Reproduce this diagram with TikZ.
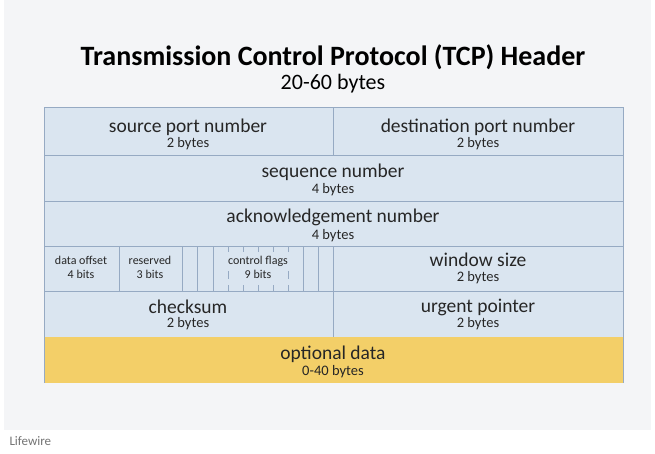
\documentclass[tikz,border=0pt]{standalone}
\usepackage{fontspec}
\setmainfont{Carlito}
\usepackage{xcolor}
\usetikzlibrary{positioning}
\definecolor{panel}{RGB}{244,245,247}
\definecolor{cellblue}{RGB}{218,229,240}
\definecolor{cellline}{RGB}{150,170,195}
\definecolor{optyellow}{RGB}{243,207,104}

\tikzset{
  field/.style={draw=cellline, fill=cellblue, line width=0.8pt},
  fname/.style={font=\fontsize{19.5}{21}\selectfont, text=black!85},
  fsize/.style={font=\fontsize{14.5}{16}\selectfont, text=black!85},
  fsmall/.style={font=\fontsize{12}{14}\selectfont, text=black!85, align=center},
}

\begin{document}
\begin{tikzpicture}[x=1pt, y=-1pt]
\useasboundingbox (0,0) rectangle (655,454);
\fill[panel] (4,0) rectangle (651,430);

% title
\node[font=\bfseries\fontsize{28}{30}\selectfont] (title) at (333,57) {Transmission Control Protocol (TCP) Header};
\node[font=\fontsize{22}{24}\selectfont, below=-2pt of title] (subtitle) {20-60 bytes};

% rows
\draw[field] (44,107) rectangle (333,155);
\draw[field] (333,107) rectangle (623,155);
\draw[field] (44,155) rectangle (623,201);
\draw[field] (44,201) rectangle (623,246);
\draw[field] (44,246) rectangle (333,291);
\draw[field] (333,246) rectangle (623,291);
\draw[field] (44,291) rectangle (333,337);
\draw[field] (333,291) rectangle (623,337);
\fill[optyellow] (44,337) rectangle (623,383);
\draw[cellline, line width=0.8pt] (44,337) -- (44,383) (623,337) -- (623,383);

% flag dividers
\foreach \x in {119,182,197,213,303,318}
  \draw[cellline, line width=0.8pt] (\x,246) -- (\x,291);
\foreach \x in {228,243,258,273,288} {
  \draw[cellline, line width=0.8pt] (\x,246) -- (\x,252);
  \draw[cellline, line width=0.8pt] (\x,285) -- (\x,291);
}
\draw[cellline, line width=0.8pt] (228,271) -- (228,279) (288,271) -- (288,279);

% labels
\node[fname] (srcport) at (188,127) {source port number};
\node[fsize] (srcsize) at (188,144) {2 bytes};
\node[fname] (dstport) at (478,127) {destination port number};
\node[fsize] (dstsize) at (478,144) {2 bytes};
\node[fname] (seqnum) at (333,172) {sequence number};
\node[fsize] (seqsize) at (333,190) {4 bytes};
\node[fname] (acknum) at (333,217) {acknowledgement number};
\node[fsize] (acksize) at (333,236) {4 bytes};
\node[fsmall] (offset) at (81,267) {data offset\\4 bits};
\node[fsmall] (reserved) at (150,267) {reserved\\3 bits};
\node[fsmall] (flags) at (258,267) {control flags\\9 bits};
\node[fname] (window) at (478,260) {window size};
\node[fsize] (winsize) at (478,278) {2 bytes};
\node[fname] (checksum) at (188,307) {checksum};
\node[fsize] (chksize) at (188,324) {2 bytes};
\node[fname] (urgent) at (478,307) {urgent pointer};
\node[fsize] (urgsize) at (478,324) {2 bytes};
\node[fname] (optional) at (333,354) {optional data};
\node[fsize] (optsize) at (333,372) {0-40 bytes};

\node[font=\fontsize{13}{14}\selectfont, text=black!55, anchor=west] (credit) at (6,441) {Lifewire};
\end{tikzpicture}
\end{document}
